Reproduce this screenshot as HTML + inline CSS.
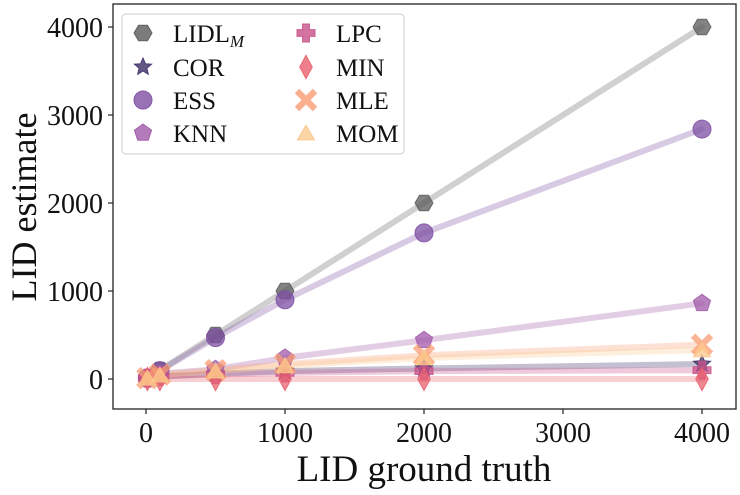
<!DOCTYPE html>
<html><head><meta charset="utf-8"><style>
body{margin:0;background:#fff;}
svg text{font-family:"Liberation Serif","DejaVu Serif",serif;fill:#111;}
</style></head><body>
<svg id="chart" width="740" height="490" xmlns="http://www.w3.org/2000/svg">
<rect x="113" y="4" width="623" height="405" fill="#fff" stroke="#222" stroke-width="1.3"/>
<g id="lines"></g><g id="marks"></g><g id="axes"></g>
<g id="legend">
<rect x="122" y="14" width="282" height="140" rx="4" fill="#fff" fill-opacity="0.85" stroke="#ccc" stroke-width="1"/>
</g>
<text x="424" y="481" font-size="37" text-anchor="middle">LID ground truth</text>
<text transform="translate(36,207) rotate(-90)" font-size="36" text-anchor="middle">LID estimate</text>
</svg>
<script>
const xVals=[10,100,500,1000,2000,4000];
const seriesNames=["LIDL","COR","ESS","KNN","LPC","MIN","MLE","MOM"];
const lidlVals=[10,100,500,1000,2000,4000];
const corVals=[10,30,60,90,120,170];
const essVals=[10,95,470,900,1660,2840];
const knnVals=[10,60,110,240,440,860];
const lpcVals=[10,30,50,70,90,100];
const minVals=[0,0,0,0,0,0];
const mleVals=[10,50,100,170,270,390];
const momVals=[10,45,90,150,240,330];
const xTicks=[0,1000,2000,3000,4000];
const yTicks=[0,1000,2000,3000,4000];
const allVals=[lidlVals,corVals,essVals,knnVals,lpcVals,minVals,mleVals,momVals];
const colors=["#5a5a5a","#3d2f66","#7e4fa3","#a05aa8","#c8508a","#e8606e","#f99c72","#fcc98e"];
const lineColors=["#b0b0b0","#3d2f66","#7e4fa3","#a05aa8","#c8508a","#e8606e","#f99c72","#fcc98e"];
const shapes=["hex","star","circle","pent","plus","diamond","x","tri"];
const X=v=>146+v*(556/4000);
const Y=v=>379-v*(352/4000);
const NS="http://www.w3.org/2000/svg";
function mk(t,a){const e=document.createElementNS(NS,t);for(const k in a)e.setAttribute(k,a[k]);return e;}
function poly(n,r,rot,cx,cy){let p=[];for(let i=0;i<n;i++){const a=rot+i*2*Math.PI/n;p.push((cx+r*Math.cos(a)).toFixed(1)+","+(cy+r*Math.sin(a)).toFixed(1));}return p.join(" ");}
function shape(s,cx,cy,r,col,op){
 let e;
 if(s=="circle")e=mk("circle",{cx:cx,cy:cy,r:r});
 else if(s=="hex")e=mk("polygon",{points:poly(6,r,0,cx,cy)});
 else if(s=="pent")e=mk("polygon",{points:poly(5,r,-Math.PI/2,cx,cy)});
 else if(s=="tri")e=mk("polygon",{points:poly(3,r*1.1,-Math.PI/2,cx,cy+2)});
 else if(s=="diamond")e=mk("polygon",{points:`${cx},${cy-r*1.3} ${cx+r*0.7},${cy} ${cx},${cy+r*1.3} ${cx-r*0.7},${cy}`});
 else if(s=="star"){let p=[];for(let i=0;i<10;i++){const a=-Math.PI/2+i*Math.PI/5;const rr=i%2?r*0.45:r;p.push((cx+rr*Math.cos(a)).toFixed(1)+","+(cy+rr*Math.sin(a)).toFixed(1));}e=mk("polygon",{points:p.join(" ")});}
 else if(s=="plus"){const a=r*0.38;e=mk("path",{d:`M${cx-a},${cy-r}h${2*a}v${r-a}h${r-a}v${2*a}h${a-r}v${r-a}h${-2*a}v${a-r}h${a-r}v${-2*a}h${r-a}z`});}
 else if(s=="x"){e=mk("path",{d:`M${cx-r},${cy-r}L${cx+r},${cy+r}M${cx+r},${cy-r}L${cx-r},${cy+r}`,stroke:col,"stroke-width":r*0.7,"stroke-opacity":op,fill:"none"});return e;}
 e.setAttribute("fill",col);e.setAttribute("fill-opacity",op);e.setAttribute("stroke",col);e.setAttribute("stroke-opacity",Math.min(1,op+0.1));
 return e;
}
const lines=document.getElementById("lines"),marks=document.getElementById("marks"),axes=document.getElementById("axes");
allVals.forEach((vals,si)=>{
 const pl=mk("polyline",{points:xVals.map((x,i)=>X(x)+","+Y(vals[i])).join(" "),fill:"none",stroke:lineColors[si],"stroke-width":6,"stroke-opacity":si==0?0.6:0.3,"stroke-linecap":"round"});
 
 
 lines.appendChild(pl);
});
allVals.forEach((vals,si)=>{
 xVals.forEach((x,i)=>{
  const m=shape(shapes[si],X(x),Y(vals[i]),9,colors[si],0.75);
  
  
  marks.appendChild(m);
 });
});
xTicks.forEach(t=>{
 axes.appendChild(mk("line",{x1:X(t),x2:X(t),y1:409,y2:414,stroke:"#222","stroke-width":1.2}));
 const tx=mk("text",{x:X(t),y:442,"font-size":28,"text-anchor":"middle"});tx.textContent=t;
 
 
 axes.appendChild(tx);
});
yTicks.forEach(t=>{
 axes.appendChild(mk("line",{x1:108,x2:113,y1:Y(t),y2:Y(t),stroke:"#222","stroke-width":1.2}));
 const tx=mk("text",{x:103,y:Y(t)+10,"font-size":28,"text-anchor":"end"});tx.textContent=t;
 
 
 axes.appendChild(tx);
});
const leg=document.getElementById("legend");
const legPos=[[143,33],[143,67],[143,100],[143,133],[306,33],[306,67],[306,100],[306,133]];
const legText=["LIDL","COR","ESS","KNN","LPC","MIN","MLE","MOM"];
legPos.forEach((p,i)=>{
 const g=mk("g",{});
 
 
 g.appendChild(shape(shapes[i],p[0],p[1],9,colors[i],0.8));
 const tx=mk("text",{x:p[0]+30,y:p[1]+9,"font-size":25});
 tx.textContent=legText[i];
 if(i==0){const s=mk("tspan",{"font-size":17,"font-style":"italic",dy:5});s.textContent="M";tx.appendChild(s);}
 g.appendChild(tx);leg.appendChild(g);
});
</script>
</body></html>
